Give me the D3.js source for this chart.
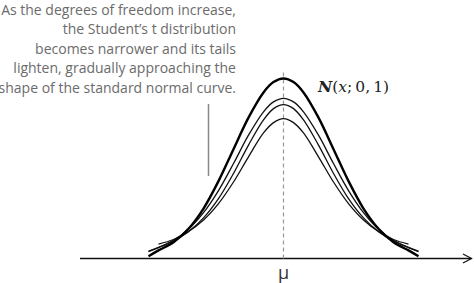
<!DOCTYPE html>
<html>
<head>
<meta charset="utf-8">
<script src="https://cdn.jsdelivr.net/npm/d3@7"></script>
<style>
  html, body { margin: 0; padding: 0; background: #fff; }
  svg { display: block; }
</style>
</head>
<body>
<div id="chart"></div>
<script>
// x positions in units of the normal's sigma
const xs = [-2.7, -2.5, -2.2, -1.9, -1.6, -1.3, -1.0, -0.7, -0.4, -0.2, 0,
            0.2, 0.4, 0.7, 1.0, 1.3, 1.6, 1.9, 2.2, 2.5, 2.7];

// heights of each curve at xs (density scale, normal peak = 0.4)
const normalCurve = [0.005, 0.018, 0.036, 0.066, 0.111, 0.172, 0.243, 0.313, 0.369, 0.392, 0.400,
                     0.392, 0.369, 0.313, 0.243, 0.172, 0.111, 0.066, 0.036, 0.018, 0.005];
const tHigh = [0.0165, 0.0246, 0.0406, 0.0653, 0.102, 0.151, 0.211, 0.274, 0.326, 0.348, 0.356,
               0.348, 0.326, 0.274, 0.211, 0.151, 0.102, 0.0653, 0.0406, 0.0246, 0.0165];
const tMid = [0.0150, 0.0240, 0.0392, 0.0597, 0.0902, 0.133, 0.189, 0.252, 0.308, 0.333, 0.342,
              0.333, 0.308, 0.252, 0.189, 0.133, 0.0902, 0.0597, 0.0392, 0.0240, 0.0150];
const tLow = [null, 0.0320, 0.0422, 0.0599, 0.0855, 0.122, 0.170, 0.226, 0.279, 0.302, 0.311,
              0.302, 0.279, 0.226, 0.170, 0.122, 0.0855, 0.0599, 0.0422, 0.0320, null];

const noteLines = [
  "As the degrees of freedom increase,",
  "the Student\u2019s t distribution",
  "becomes narrower and its tails",
  "lighten, gradually approaching the",
  "shape of the standard normal curve."
];

const width = 474, height = 283;

const svg = d3.select("#chart").append("svg")
  .attr("width", width)
  .attr("height", height);

const xScale = d3.scaleLinear().domain([-4, 4]).range([83.5, 483.5]);
const yScale = d3.scaleLinear().domain([0, 0.4]).range([258.5, 78.5]);

// horizontal axis with an open arrow head
const axisStart = xScale(-4.07), axisEnd = xScale(3.76);
svg.append("line")
  .attr("x1", axisStart).attr("x2", axisEnd)
  .attr("y1", yScale(0)).attr("y2", yScale(0))
  .attr("stroke", "#111").attr("stroke-width", 1.3);
svg.append("path")
  .attr("d", `M${axisEnd - 8.5},${yScale(0) - 4.5} L${axisEnd},${yScale(0)} L${axisEnd - 8.5},${yScale(0) + 4.5}`)
  .attr("fill", "none").attr("stroke", "#111").attr("stroke-width", 1.2);

// dashed mean line
svg.append("line")
  .attr("x1", xScale(0)).attr("x2", xScale(0))
  .attr("y1", yScale(0)).attr("y2", yScale(0.415))
  .attr("stroke", "#999").attr("stroke-width", 1.2)
  .attr("stroke-dasharray", "4,3");

const line = d3.line()
  .defined(d => d[1] != null)
  .x(d => xScale(d[0]))
  .y(d => yScale(d[1]))
  .curve(d3.curveCatmullRom);

[tLow, tMid, tHigh].forEach(function (ys) {
  svg.append("path")
    .datum(xs.map((x, i) => [x, ys[i]]))
    .attr("d", line)
    .attr("fill", "none")
    .attr("stroke", "#111")
    .attr("stroke-width", 1.3);
});

svg.append("path")
  .datum(xs.map((x, i) => [x, normalCurve[i]]))
  .attr("d", line)
  .attr("fill", "none")
  .attr("stroke", "#000")
  .attr("stroke-width", 2.4);

// curve label
const lab = svg.append("text")
  .attr("x", 318).attr("y", 92)
  .attr("font-family", "'DejaVu Serif', 'Liberation Serif', serif")
  .attr("font-size", 15.5)
  .attr("fill", "#222");
lab.append("tspan").attr("font-style", "italic").attr("font-weight", "bold").text("N");
lab.append("tspan").text("(");
lab.append("tspan").attr("font-style", "italic").text("x");
lab.append("tspan").text(";\u20090,\u20091)");

// mu label under the axis
svg.append("text")
  .attr("x", xScale(0)).attr("y", 279)
  .attr("text-anchor", "middle")
  .attr("font-family", "'Open Sans', sans-serif")
  .attr("font-size", 18)
  .attr("fill", "#333")
  .text("\u03bc");

// annotation block and its pointer line
svg.selectAll("text.note")
  .data(noteLines)
  .enter()
  .append("text")
  .attr("class", "note")
  .attr("x", 236)
  .attr("y", (d, i) => 15 + i * 19.4)
  .attr("text-anchor", "end")
  .attr("font-family", "'Open Sans', sans-serif")
  .attr("font-size", 14)
  .attr("fill", "#6b6b6b")
  .text(d => d);

svg.append("line")
  .attr("x1", 208.5).attr("x2", 208.5)
  .attr("y1", 104).attr("y2", 176)
  .attr("stroke", "#888").attr("stroke-width", 1.5);
</script>
</body>
</html>
